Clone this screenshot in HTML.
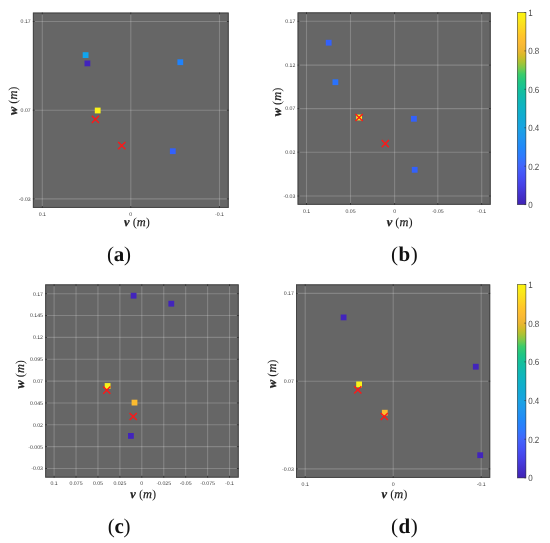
<!DOCTYPE html>
<html><head><meta charset="utf-8"><title>Figure</title>
<style>
html,body{margin:0;padding:0;background:#fff;}
svg{display:block}
text{text-rendering:geometricPrecision}
.tk{font-family:"Liberation Sans",Arial,sans-serif;font-size:5.2px;fill:#3c3c3c;}
.cb{font-family:"Liberation Sans",Arial,sans-serif;font-size:9.1px;fill:#484848;}
.ax{font-family:"Liberation Serif","Times New Roman",serif;font-size:12.4px;font-style:italic;fill:#222;}
.bi{font-weight:bold;font-style:italic;stroke:#222;stroke-width:0.3px}
.cap{font-family:"Liberation Serif","Times New Roman",serif;font-size:21px;fill:#111;}
.b{font-weight:bold}
.up{font-style:normal}
.m{stroke:#222;stroke-width:0.25px}
</style></head><body>
<svg width="550" height="543" viewBox="0 0 550 543">
<defs>
<linearGradient id="parula" x1="0" y1="1" x2="0" y2="0">
<stop offset="0" stop-color="#4022b4"/>
<stop offset="0.05" stop-color="#4431cc"/>
<stop offset="0.1" stop-color="#4741e6"/>
<stop offset="0.15" stop-color="#4652f6"/>
<stop offset="0.2" stop-color="#4365fb"/>
<stop offset="0.25" stop-color="#2f7afe"/>
<stop offset="0.3" stop-color="#2289f8"/>
<stop offset="0.35" stop-color="#2096ee"/>
<stop offset="0.4" stop-color="#19a3e2"/>
<stop offset="0.45" stop-color="#12aad4"/>
<stop offset="0.5" stop-color="#0fb2c6"/>
<stop offset="0.55" stop-color="#10b8b3"/>
<stop offset="0.6" stop-color="#14c09a"/>
<stop offset="0.64" stop-color="#1fc683"/>
<stop offset="0.68" stop-color="#3ccc6a"/>
<stop offset="0.71" stop-color="#78c94c"/>
<stop offset="0.74" stop-color="#a8c335"/>
<stop offset="0.77" stop-color="#d0bc28"/>
<stop offset="0.8" stop-color="#ecb632"/>
<stop offset="0.84" stop-color="#fbba35"/>
<stop offset="0.88" stop-color="#ffc52a"/>
<stop offset="0.92" stop-color="#fdd722"/>
<stop offset="0.96" stop-color="#fbe81a"/>
<stop offset="1" stop-color="#fbf40e"/>
</linearGradient>
</defs>
<rect width="550" height="543" fill="#fff"/>
<rect x="32.9" y="12.6" width="195.80" height="195.30" fill="#666666"/>
<line x1="42.3" y1="12.6" x2="42.3" y2="207.9" stroke="#fff" stroke-opacity="0.2" stroke-width="1.1"/>
<line x1="130.8" y1="12.6" x2="130.8" y2="207.9" stroke="#fff" stroke-opacity="0.2" stroke-width="1.1"/>
<line x1="219.5" y1="12.6" x2="219.5" y2="207.9" stroke="#fff" stroke-opacity="0.2" stroke-width="1.1"/>
<line x1="32.9" y1="21.5" x2="228.7" y2="21.5" stroke="#fff" stroke-opacity="0.2" stroke-width="1.1"/>
<line x1="32.9" y1="110.2" x2="228.7" y2="110.2" stroke="#fff" stroke-opacity="0.2" stroke-width="1.1"/>
<line x1="32.9" y1="198.9" x2="228.7" y2="198.9" stroke="#fff" stroke-opacity="0.2" stroke-width="1.1"/>
<rect x="33.40" y="13.10" width="194.80" height="194.30" fill="none" stroke="#454545" stroke-width="1"/>
<line x1="42.3" y1="207.9" x2="42.3" y2="206.1" stroke="#2a2a2a" stroke-width="0.9"/>
<line x1="42.3" y1="12.6" x2="42.3" y2="14.4" stroke="#2a2a2a" stroke-width="0.9"/>
<text x="42.3" y="215.6" class="tk" text-anchor="middle">0.1</text>
<line x1="130.8" y1="207.9" x2="130.8" y2="206.1" stroke="#2a2a2a" stroke-width="0.9"/>
<line x1="130.8" y1="12.6" x2="130.8" y2="14.4" stroke="#2a2a2a" stroke-width="0.9"/>
<text x="130.8" y="215.6" class="tk" text-anchor="middle">0</text>
<line x1="219.5" y1="207.9" x2="219.5" y2="206.1" stroke="#2a2a2a" stroke-width="0.9"/>
<line x1="219.5" y1="12.6" x2="219.5" y2="14.4" stroke="#2a2a2a" stroke-width="0.9"/>
<text x="219.5" y="215.6" class="tk" text-anchor="middle">-0.1</text>
<line x1="32.9" y1="21.5" x2="34.699999999999996" y2="21.5" stroke="#2a2a2a" stroke-width="0.9"/>
<line x1="228.7" y1="21.5" x2="226.89999999999998" y2="21.5" stroke="#2a2a2a" stroke-width="0.9"/>
<text x="30.7" y="23.35" class="tk" text-anchor="end">0.17</text>
<line x1="32.9" y1="110.2" x2="34.699999999999996" y2="110.2" stroke="#2a2a2a" stroke-width="0.9"/>
<line x1="228.7" y1="110.2" x2="226.89999999999998" y2="110.2" stroke="#2a2a2a" stroke-width="0.9"/>
<text x="30.7" y="112.05" class="tk" text-anchor="end">0.07</text>
<line x1="32.9" y1="198.9" x2="34.699999999999996" y2="198.9" stroke="#2a2a2a" stroke-width="0.9"/>
<line x1="228.7" y1="198.9" x2="226.89999999999998" y2="198.9" stroke="#2a2a2a" stroke-width="0.9"/>
<text x="30.7" y="200.75" class="tk" text-anchor="end">-0.03</text>
<rect x="82.70" y="52.20" width="5.8" height="5.8" fill="#10a5ee"/>
<rect x="84.50" y="60.50" width="5.8" height="5.8" fill="#4224bc"/>
<rect x="177.40" y="59.30" width="5.8" height="5.8" fill="#1f82fb"/>
<rect x="94.80" y="107.60" width="5.8" height="5.8" fill="#f9f21a"/>
<rect x="169.90" y="148.30" width="5.8" height="5.8" fill="#3361fb"/>
<path d="M91.80 115.70L99.00 122.90M91.80 122.90L99.00 115.70" stroke="#ff1717" stroke-width="1.4" fill="none"/>
<path d="M118.20 142.10L125.40 149.30M118.20 149.30L125.40 142.10" stroke="#ff1717" stroke-width="1.4" fill="none"/>
<text x="137.0" y="225.5" class="ax" text-anchor="middle"><tspan class="bi">v</tspan> <tspan class="up">(</tspan><tspan class="m">m</tspan><tspan class="up">)</tspan></text>
<text transform="translate(17.0,100.8) rotate(-90)" class="ax" text-anchor="middle"><tspan class="bi">w</tspan> <tspan class="up">(</tspan><tspan class="m">m</tspan><tspan class="up">)</tspan></text>
<text x="118.9" y="260.5" class="cap" style="letter-spacing:-0.3px" text-anchor="middle">(<tspan class="b">a</tspan>)</text>
<rect x="297.6" y="12.4" width="193.10" height="192.40" fill="#666666"/>
<line x1="306.5" y1="12.4" x2="306.5" y2="204.8" stroke="#fff" stroke-opacity="0.2" stroke-width="1.1"/>
<line x1="350.5" y1="12.4" x2="350.5" y2="204.8" stroke="#fff" stroke-opacity="0.2" stroke-width="1.1"/>
<line x1="394.6" y1="12.4" x2="394.6" y2="204.8" stroke="#fff" stroke-opacity="0.2" stroke-width="1.1"/>
<line x1="437.8" y1="12.4" x2="437.8" y2="204.8" stroke="#fff" stroke-opacity="0.2" stroke-width="1.1"/>
<line x1="481.7" y1="12.4" x2="481.7" y2="204.8" stroke="#fff" stroke-opacity="0.2" stroke-width="1.1"/>
<line x1="297.6" y1="21.3" x2="490.7" y2="21.3" stroke="#fff" stroke-opacity="0.2" stroke-width="1.1"/>
<line x1="297.6" y1="65.1" x2="490.7" y2="65.1" stroke="#fff" stroke-opacity="0.2" stroke-width="1.1"/>
<line x1="297.6" y1="108.6" x2="490.7" y2="108.6" stroke="#fff" stroke-opacity="0.2" stroke-width="1.1"/>
<line x1="297.6" y1="152.2" x2="490.7" y2="152.2" stroke="#fff" stroke-opacity="0.2" stroke-width="1.1"/>
<line x1="297.6" y1="196" x2="490.7" y2="196" stroke="#fff" stroke-opacity="0.2" stroke-width="1.1"/>
<rect x="298.10" y="12.90" width="192.10" height="191.40" fill="none" stroke="#454545" stroke-width="1"/>
<line x1="306.5" y1="204.8" x2="306.5" y2="203.0" stroke="#2a2a2a" stroke-width="0.9"/>
<line x1="306.5" y1="12.4" x2="306.5" y2="14.200000000000001" stroke="#2a2a2a" stroke-width="0.9"/>
<text x="306.5" y="212.5" class="tk" text-anchor="middle">0.1</text>
<line x1="350.5" y1="204.8" x2="350.5" y2="203.0" stroke="#2a2a2a" stroke-width="0.9"/>
<line x1="350.5" y1="12.4" x2="350.5" y2="14.200000000000001" stroke="#2a2a2a" stroke-width="0.9"/>
<text x="350.5" y="212.5" class="tk" text-anchor="middle">0.05</text>
<line x1="394.6" y1="204.8" x2="394.6" y2="203.0" stroke="#2a2a2a" stroke-width="0.9"/>
<line x1="394.6" y1="12.4" x2="394.6" y2="14.200000000000001" stroke="#2a2a2a" stroke-width="0.9"/>
<text x="394.6" y="212.5" class="tk" text-anchor="middle">0</text>
<line x1="437.8" y1="204.8" x2="437.8" y2="203.0" stroke="#2a2a2a" stroke-width="0.9"/>
<line x1="437.8" y1="12.4" x2="437.8" y2="14.200000000000001" stroke="#2a2a2a" stroke-width="0.9"/>
<text x="437.8" y="212.5" class="tk" text-anchor="middle">-0.05</text>
<line x1="481.7" y1="204.8" x2="481.7" y2="203.0" stroke="#2a2a2a" stroke-width="0.9"/>
<line x1="481.7" y1="12.4" x2="481.7" y2="14.200000000000001" stroke="#2a2a2a" stroke-width="0.9"/>
<text x="481.7" y="212.5" class="tk" text-anchor="middle">-0.1</text>
<line x1="297.6" y1="21.3" x2="299.40000000000003" y2="21.3" stroke="#2a2a2a" stroke-width="0.9"/>
<line x1="490.7" y1="21.3" x2="488.9" y2="21.3" stroke="#2a2a2a" stroke-width="0.9"/>
<text x="295.4" y="23.15" class="tk" text-anchor="end">0.17</text>
<line x1="297.6" y1="65.1" x2="299.40000000000003" y2="65.1" stroke="#2a2a2a" stroke-width="0.9"/>
<line x1="490.7" y1="65.1" x2="488.9" y2="65.1" stroke="#2a2a2a" stroke-width="0.9"/>
<text x="295.4" y="66.95" class="tk" text-anchor="end">0.12</text>
<line x1="297.6" y1="108.6" x2="299.40000000000003" y2="108.6" stroke="#2a2a2a" stroke-width="0.9"/>
<line x1="490.7" y1="108.6" x2="488.9" y2="108.6" stroke="#2a2a2a" stroke-width="0.9"/>
<text x="295.4" y="110.45" class="tk" text-anchor="end">0.07</text>
<line x1="297.6" y1="152.2" x2="299.40000000000003" y2="152.2" stroke="#2a2a2a" stroke-width="0.9"/>
<line x1="490.7" y1="152.2" x2="488.9" y2="152.2" stroke="#2a2a2a" stroke-width="0.9"/>
<text x="295.4" y="154.05" class="tk" text-anchor="end">0.02</text>
<line x1="297.6" y1="196" x2="299.40000000000003" y2="196" stroke="#2a2a2a" stroke-width="0.9"/>
<line x1="490.7" y1="196" x2="488.9" y2="196" stroke="#2a2a2a" stroke-width="0.9"/>
<text x="295.4" y="197.85" class="tk" text-anchor="end">-0.03</text>
<rect x="325.80" y="39.80" width="5.8" height="5.8" fill="#3361fb"/>
<rect x="332.50" y="79.30" width="5.8" height="5.8" fill="#2a72fc"/>
<rect x="356.20" y="114.60" width="5.8" height="5.8" fill="#f9f21a"/>
<rect x="411.00" y="115.90" width="5.8" height="5.8" fill="#3361fb"/>
<rect x="411.80" y="166.90" width="5.8" height="5.8" fill="#3361fb"/>
<path d="M355.50 113.90L362.70 121.10M355.50 121.10L362.70 113.90" stroke="#ff1717" stroke-width="1.4" fill="none"/>
<path d="M381.70 140.10L388.90 147.30M381.70 147.30L388.90 140.10" stroke="#ff1717" stroke-width="1.4" fill="none"/>
<text x="399.6" y="225.5" class="ax" text-anchor="middle"><tspan class="bi">v</tspan> <tspan class="up">(</tspan><tspan class="m">m</tspan><tspan class="up">)</tspan></text>
<text transform="translate(281.4,102.0) rotate(-90)" class="ax" text-anchor="middle"><tspan class="bi">w</tspan> <tspan class="up">(</tspan><tspan class="m">m</tspan><tspan class="up">)</tspan></text>
<text x="404.6" y="260.5" class="cap" style="letter-spacing:0.45px" text-anchor="middle">(<tspan class="b">b</tspan>)</text>
<rect x="45.2" y="284.4" width="193.50" height="193.20" fill="#666666"/>
<line x1="54.1" y1="284.4" x2="54.1" y2="477.6" stroke="#fff" stroke-opacity="0.2" stroke-width="1.1"/>
<line x1="76.03" y1="284.4" x2="76.03" y2="477.6" stroke="#fff" stroke-opacity="0.2" stroke-width="1.1"/>
<line x1="97.96" y1="284.4" x2="97.96" y2="477.6" stroke="#fff" stroke-opacity="0.2" stroke-width="1.1"/>
<line x1="119.89" y1="284.4" x2="119.89" y2="477.6" stroke="#fff" stroke-opacity="0.2" stroke-width="1.1"/>
<line x1="141.82" y1="284.4" x2="141.82" y2="477.6" stroke="#fff" stroke-opacity="0.2" stroke-width="1.1"/>
<line x1="163.75" y1="284.4" x2="163.75" y2="477.6" stroke="#fff" stroke-opacity="0.2" stroke-width="1.1"/>
<line x1="185.68" y1="284.4" x2="185.68" y2="477.6" stroke="#fff" stroke-opacity="0.2" stroke-width="1.1"/>
<line x1="207.61" y1="284.4" x2="207.61" y2="477.6" stroke="#fff" stroke-opacity="0.2" stroke-width="1.1"/>
<line x1="229.54" y1="284.4" x2="229.54" y2="477.6" stroke="#fff" stroke-opacity="0.2" stroke-width="1.1"/>
<line x1="45.2" y1="293.7" x2="238.7" y2="293.7" stroke="#fff" stroke-opacity="0.2" stroke-width="1.1"/>
<line x1="45.2" y1="315.55" x2="238.7" y2="315.55" stroke="#fff" stroke-opacity="0.2" stroke-width="1.1"/>
<line x1="45.2" y1="337.4" x2="238.7" y2="337.4" stroke="#fff" stroke-opacity="0.2" stroke-width="1.1"/>
<line x1="45.2" y1="359.25" x2="238.7" y2="359.25" stroke="#fff" stroke-opacity="0.2" stroke-width="1.1"/>
<line x1="45.2" y1="381.1" x2="238.7" y2="381.1" stroke="#fff" stroke-opacity="0.2" stroke-width="1.1"/>
<line x1="45.2" y1="402.95" x2="238.7" y2="402.95" stroke="#fff" stroke-opacity="0.2" stroke-width="1.1"/>
<line x1="45.2" y1="424.8" x2="238.7" y2="424.8" stroke="#fff" stroke-opacity="0.2" stroke-width="1.1"/>
<line x1="45.2" y1="446.65" x2="238.7" y2="446.65" stroke="#fff" stroke-opacity="0.2" stroke-width="1.1"/>
<line x1="45.2" y1="468.5" x2="238.7" y2="468.5" stroke="#fff" stroke-opacity="0.2" stroke-width="1.1"/>
<rect x="45.70" y="284.90" width="192.50" height="192.20" fill="none" stroke="#454545" stroke-width="1"/>
<line x1="54.1" y1="477.6" x2="54.1" y2="475.8" stroke="#2a2a2a" stroke-width="0.9"/>
<line x1="54.1" y1="284.4" x2="54.1" y2="286.2" stroke="#2a2a2a" stroke-width="0.9"/>
<text x="54.1" y="485.3" class="tk" text-anchor="middle">0.1</text>
<line x1="76.03" y1="477.6" x2="76.03" y2="475.8" stroke="#2a2a2a" stroke-width="0.9"/>
<line x1="76.03" y1="284.4" x2="76.03" y2="286.2" stroke="#2a2a2a" stroke-width="0.9"/>
<text x="76.03" y="485.3" class="tk" text-anchor="middle">0.075</text>
<line x1="97.96" y1="477.6" x2="97.96" y2="475.8" stroke="#2a2a2a" stroke-width="0.9"/>
<line x1="97.96" y1="284.4" x2="97.96" y2="286.2" stroke="#2a2a2a" stroke-width="0.9"/>
<text x="97.96" y="485.3" class="tk" text-anchor="middle">0.05</text>
<line x1="119.89" y1="477.6" x2="119.89" y2="475.8" stroke="#2a2a2a" stroke-width="0.9"/>
<line x1="119.89" y1="284.4" x2="119.89" y2="286.2" stroke="#2a2a2a" stroke-width="0.9"/>
<text x="119.89" y="485.3" class="tk" text-anchor="middle">0.025</text>
<line x1="141.82" y1="477.6" x2="141.82" y2="475.8" stroke="#2a2a2a" stroke-width="0.9"/>
<line x1="141.82" y1="284.4" x2="141.82" y2="286.2" stroke="#2a2a2a" stroke-width="0.9"/>
<text x="141.82" y="485.3" class="tk" text-anchor="middle">0</text>
<line x1="163.75" y1="477.6" x2="163.75" y2="475.8" stroke="#2a2a2a" stroke-width="0.9"/>
<line x1="163.75" y1="284.4" x2="163.75" y2="286.2" stroke="#2a2a2a" stroke-width="0.9"/>
<text x="163.75" y="485.3" class="tk" text-anchor="middle">-0.025</text>
<line x1="185.68" y1="477.6" x2="185.68" y2="475.8" stroke="#2a2a2a" stroke-width="0.9"/>
<line x1="185.68" y1="284.4" x2="185.68" y2="286.2" stroke="#2a2a2a" stroke-width="0.9"/>
<text x="185.68" y="485.3" class="tk" text-anchor="middle">-0.05</text>
<line x1="207.61" y1="477.6" x2="207.61" y2="475.8" stroke="#2a2a2a" stroke-width="0.9"/>
<line x1="207.61" y1="284.4" x2="207.61" y2="286.2" stroke="#2a2a2a" stroke-width="0.9"/>
<text x="207.61" y="485.3" class="tk" text-anchor="middle">-0.075</text>
<line x1="229.54" y1="477.6" x2="229.54" y2="475.8" stroke="#2a2a2a" stroke-width="0.9"/>
<line x1="229.54" y1="284.4" x2="229.54" y2="286.2" stroke="#2a2a2a" stroke-width="0.9"/>
<text x="229.54" y="485.3" class="tk" text-anchor="middle">-0.1</text>
<line x1="45.2" y1="293.7" x2="47.0" y2="293.7" stroke="#2a2a2a" stroke-width="0.9"/>
<line x1="238.7" y1="293.7" x2="236.89999999999998" y2="293.7" stroke="#2a2a2a" stroke-width="0.9"/>
<text x="43.0" y="295.55" class="tk" text-anchor="end">0.17</text>
<line x1="45.2" y1="315.55" x2="47.0" y2="315.55" stroke="#2a2a2a" stroke-width="0.9"/>
<line x1="238.7" y1="315.55" x2="236.89999999999998" y2="315.55" stroke="#2a2a2a" stroke-width="0.9"/>
<text x="43.0" y="317.40" class="tk" text-anchor="end">0.145</text>
<line x1="45.2" y1="337.4" x2="47.0" y2="337.4" stroke="#2a2a2a" stroke-width="0.9"/>
<line x1="238.7" y1="337.4" x2="236.89999999999998" y2="337.4" stroke="#2a2a2a" stroke-width="0.9"/>
<text x="43.0" y="339.25" class="tk" text-anchor="end">0.12</text>
<line x1="45.2" y1="359.25" x2="47.0" y2="359.25" stroke="#2a2a2a" stroke-width="0.9"/>
<line x1="238.7" y1="359.25" x2="236.89999999999998" y2="359.25" stroke="#2a2a2a" stroke-width="0.9"/>
<text x="43.0" y="361.10" class="tk" text-anchor="end">0.095</text>
<line x1="45.2" y1="381.1" x2="47.0" y2="381.1" stroke="#2a2a2a" stroke-width="0.9"/>
<line x1="238.7" y1="381.1" x2="236.89999999999998" y2="381.1" stroke="#2a2a2a" stroke-width="0.9"/>
<text x="43.0" y="382.95" class="tk" text-anchor="end">0.07</text>
<line x1="45.2" y1="402.95" x2="47.0" y2="402.95" stroke="#2a2a2a" stroke-width="0.9"/>
<line x1="238.7" y1="402.95" x2="236.89999999999998" y2="402.95" stroke="#2a2a2a" stroke-width="0.9"/>
<text x="43.0" y="404.80" class="tk" text-anchor="end">0.045</text>
<line x1="45.2" y1="424.8" x2="47.0" y2="424.8" stroke="#2a2a2a" stroke-width="0.9"/>
<line x1="238.7" y1="424.8" x2="236.89999999999998" y2="424.8" stroke="#2a2a2a" stroke-width="0.9"/>
<text x="43.0" y="426.65" class="tk" text-anchor="end">0.02</text>
<line x1="45.2" y1="446.65" x2="47.0" y2="446.65" stroke="#2a2a2a" stroke-width="0.9"/>
<line x1="238.7" y1="446.65" x2="236.89999999999998" y2="446.65" stroke="#2a2a2a" stroke-width="0.9"/>
<text x="43.0" y="448.50" class="tk" text-anchor="end">-0.005</text>
<line x1="45.2" y1="468.5" x2="47.0" y2="468.5" stroke="#2a2a2a" stroke-width="0.9"/>
<line x1="238.7" y1="468.5" x2="236.89999999999998" y2="468.5" stroke="#2a2a2a" stroke-width="0.9"/>
<text x="43.0" y="470.35" class="tk" text-anchor="end">-0.03</text>
<rect x="130.70" y="292.80" width="5.8" height="5.8" fill="#4224bc"/>
<rect x="168.40" y="300.80" width="5.8" height="5.8" fill="#4224bc"/>
<rect x="104.70" y="383.10" width="5.8" height="5.8" fill="#f9f21a"/>
<rect x="131.60" y="399.70" width="5.8" height="5.8" fill="#fbbb2f"/>
<rect x="128.00" y="433.00" width="5.8" height="5.8" fill="#4224bc"/>
<path d="M103.20 386.50L110.40 393.70M103.20 393.70L110.40 386.50" stroke="#ff1717" stroke-width="1.4" fill="none"/>
<path d="M129.60 412.90L136.80 420.10M129.60 420.10L136.80 412.90" stroke="#ff1717" stroke-width="1.4" fill="none"/>
<text x="143.2" y="497.5" class="ax" text-anchor="middle"><tspan class="bi">v</tspan> <tspan class="up">(</tspan><tspan class="m">m</tspan><tspan class="up">)</tspan></text>
<text transform="translate(24.3,374.3) rotate(-90)" class="ax" text-anchor="middle"><tspan class="bi">w</tspan> <tspan class="up">(</tspan><tspan class="m">m</tspan><tspan class="up">)</tspan></text>
<text x="118.9" y="532.5" class="cap" style="letter-spacing:-0.3px" text-anchor="middle">(<tspan class="b">c</tspan>)</text>
<rect x="296" y="284.4" width="194.20" height="193.50" fill="#666666"/>
<line x1="305.2" y1="284.4" x2="305.2" y2="477.9" stroke="#fff" stroke-opacity="0.2" stroke-width="1.1"/>
<line x1="393.2" y1="284.4" x2="393.2" y2="477.9" stroke="#fff" stroke-opacity="0.2" stroke-width="1.1"/>
<line x1="481.2" y1="284.4" x2="481.2" y2="477.9" stroke="#fff" stroke-opacity="0.2" stroke-width="1.1"/>
<line x1="296" y1="293.4" x2="490.2" y2="293.4" stroke="#fff" stroke-opacity="0.2" stroke-width="1.1"/>
<line x1="296" y1="381.2" x2="490.2" y2="381.2" stroke="#fff" stroke-opacity="0.2" stroke-width="1.1"/>
<line x1="296" y1="468.9" x2="490.2" y2="468.9" stroke="#fff" stroke-opacity="0.2" stroke-width="1.1"/>
<rect x="296.50" y="284.90" width="193.20" height="192.50" fill="none" stroke="#454545" stroke-width="1"/>
<line x1="305.2" y1="477.9" x2="305.2" y2="476.09999999999997" stroke="#2a2a2a" stroke-width="0.9"/>
<line x1="305.2" y1="284.4" x2="305.2" y2="286.2" stroke="#2a2a2a" stroke-width="0.9"/>
<text x="305.2" y="485.6" class="tk" text-anchor="middle">0.1</text>
<line x1="393.2" y1="477.9" x2="393.2" y2="476.09999999999997" stroke="#2a2a2a" stroke-width="0.9"/>
<line x1="393.2" y1="284.4" x2="393.2" y2="286.2" stroke="#2a2a2a" stroke-width="0.9"/>
<text x="393.2" y="485.6" class="tk" text-anchor="middle">0</text>
<line x1="481.2" y1="477.9" x2="481.2" y2="476.09999999999997" stroke="#2a2a2a" stroke-width="0.9"/>
<line x1="481.2" y1="284.4" x2="481.2" y2="286.2" stroke="#2a2a2a" stroke-width="0.9"/>
<text x="481.2" y="485.6" class="tk" text-anchor="middle">-0.1</text>
<line x1="296" y1="293.4" x2="297.8" y2="293.4" stroke="#2a2a2a" stroke-width="0.9"/>
<line x1="490.2" y1="293.4" x2="488.4" y2="293.4" stroke="#2a2a2a" stroke-width="0.9"/>
<text x="293.8" y="295.25" class="tk" text-anchor="end">0.17</text>
<line x1="296" y1="381.2" x2="297.8" y2="381.2" stroke="#2a2a2a" stroke-width="0.9"/>
<line x1="490.2" y1="381.2" x2="488.4" y2="381.2" stroke="#2a2a2a" stroke-width="0.9"/>
<text x="293.8" y="383.05" class="tk" text-anchor="end">0.07</text>
<line x1="296" y1="468.9" x2="297.8" y2="468.9" stroke="#2a2a2a" stroke-width="0.9"/>
<line x1="490.2" y1="468.9" x2="488.4" y2="468.9" stroke="#2a2a2a" stroke-width="0.9"/>
<text x="293.8" y="470.75" class="tk" text-anchor="end">-0.03</text>
<rect x="340.70" y="314.50" width="5.8" height="5.8" fill="#4224bc"/>
<rect x="356.20" y="381.50" width="5.8" height="5.8" fill="#f9f21a"/>
<rect x="381.90" y="409.80" width="5.8" height="5.8" fill="#fbbb2f"/>
<rect x="472.90" y="363.80" width="5.8" height="5.8" fill="#4224bc"/>
<rect x="477.30" y="452.30" width="5.8" height="5.8" fill="#4224bc"/>
<path d="M354.20 386.30L361.40 393.50M354.20 393.50L361.40 386.30" stroke="#ff1717" stroke-width="1.4" fill="none"/>
<path d="M380.70 412.90L387.90 420.10M380.70 420.10L387.90 412.90" stroke="#ff1717" stroke-width="1.4" fill="none"/>
<text x="394.5" y="497.5" class="ax" text-anchor="middle"><tspan class="bi">v</tspan> <tspan class="up">(</tspan><tspan class="m">m</tspan><tspan class="up">)</tspan></text>
<text transform="translate(275.5,373.8) rotate(-90)" class="ax" text-anchor="middle"><tspan class="bi">w</tspan> <tspan class="up">(</tspan><tspan class="m">m</tspan><tspan class="up">)</tspan></text>
<text x="404.6" y="532.5" class="cap" style="letter-spacing:0.45px" text-anchor="middle">(<tspan class="b">d</tspan>)</text>
<rect x="517.4" y="12.5" width="8.50" height="192.10" fill="url(#parula)" stroke="#000" stroke-opacity="0.55" stroke-width="0.8"/>
<line x1="525.9" y1="204.60" x2="524.4" y2="204.60" stroke="#333" stroke-width="0.7"/>
<text transform="translate(528.2,208.10) scale(0.88,1)" class="cb">0</text>
<line x1="525.9" y1="166.18" x2="524.4" y2="166.18" stroke="#333" stroke-width="0.7"/>
<text transform="translate(528.2,169.68) scale(0.88,1)" class="cb">0.2</text>
<line x1="525.9" y1="127.76" x2="524.4" y2="127.76" stroke="#333" stroke-width="0.7"/>
<text transform="translate(528.2,131.26) scale(0.88,1)" class="cb">0.4</text>
<line x1="525.9" y1="89.34" x2="524.4" y2="89.34" stroke="#333" stroke-width="0.7"/>
<text transform="translate(528.2,92.84) scale(0.88,1)" class="cb">0.6</text>
<line x1="525.9" y1="50.92" x2="524.4" y2="50.92" stroke="#333" stroke-width="0.7"/>
<text transform="translate(528.2,54.42) scale(0.88,1)" class="cb">0.8</text>
<line x1="525.9" y1="12.50" x2="524.4" y2="12.50" stroke="#333" stroke-width="0.7"/>
<text transform="translate(528.2,16.00) scale(0.88,1)" class="cb">1</text>
<rect x="517.4" y="284.5" width="8.50" height="193.40" fill="url(#parula)" stroke="#000" stroke-opacity="0.55" stroke-width="0.8"/>
<line x1="525.9" y1="477.90" x2="524.4" y2="477.90" stroke="#333" stroke-width="0.7"/>
<text transform="translate(528.2,481.40) scale(0.88,1)" class="cb">0</text>
<line x1="525.9" y1="439.22" x2="524.4" y2="439.22" stroke="#333" stroke-width="0.7"/>
<text transform="translate(528.2,442.72) scale(0.88,1)" class="cb">0.2</text>
<line x1="525.9" y1="400.54" x2="524.4" y2="400.54" stroke="#333" stroke-width="0.7"/>
<text transform="translate(528.2,404.04) scale(0.88,1)" class="cb">0.4</text>
<line x1="525.9" y1="361.86" x2="524.4" y2="361.86" stroke="#333" stroke-width="0.7"/>
<text transform="translate(528.2,365.36) scale(0.88,1)" class="cb">0.6</text>
<line x1="525.9" y1="323.18" x2="524.4" y2="323.18" stroke="#333" stroke-width="0.7"/>
<text transform="translate(528.2,326.68) scale(0.88,1)" class="cb">0.8</text>
<line x1="525.9" y1="284.50" x2="524.4" y2="284.50" stroke="#333" stroke-width="0.7"/>
<text transform="translate(528.2,288.00) scale(0.88,1)" class="cb">1</text>
</svg>
</body></html>
